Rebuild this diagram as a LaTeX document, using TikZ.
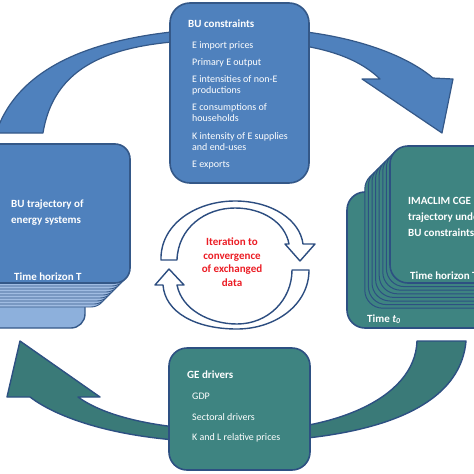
\documentclass[tikz,border=0pt]{standalone}
\usepackage{fontspec}
\setmainfont{Carlito}
\definecolor{bluefill}{RGB}{79,129,189}
\definecolor{blueline}{RGB}{52,88,136}
\definecolor{lightfill}{RGB}{141,176,220}
\definecolor{layerfill}{RGB}{160,188,226}
\definecolor{tealfill}{RGB}{62,132,129}
\definecolor{tealarrow}{RGB}{58,122,120}
\definecolor{darkline}{RGB}{45,80,130}
\definecolor{cline}{RGB}{44,77,128}
\definecolor{redtext}{RGB}{235,28,36}
\tikzset{
  bubox/.style={shape=rectangle, draw=blueline, fill=bluefill, line width=1.6pt, rounded corners=18pt, inner sep=0pt, outer sep=0pt},
  gebox/.style={shape=rectangle, draw=darkline, fill=tealfill, line width=1.6pt, rounded corners=18pt, inner sep=0pt, outer sep=0pt},
  lightbox/.style={draw=blueline, fill=lightfill, line width=1.4pt, rounded corners=14pt},
  layerL/.style={draw=blueline, fill=layerfill, line width=0.9pt, rounded corners=15pt},
  layerR/.style={draw=darkline, fill=tealfill, line width=1pt, rounded corners=18pt},
  bigblue/.style={draw=blueline, fill=bluefill, line width=1.2pt, line join=round},
  bigteal/.style={draw=darkline, fill=tealarrow, line width=1.4pt, line join=round},
  circarrow/.style={draw=cline, fill=white, line width=1.4pt, line join=round},
  title/.style={font=\bfseries\fontsize{11}{13}\selectfont, text=white, anchor=base west, inner sep=0pt},
  item/.style={font=\fontsize{10}{12}\selectfont, text=white, anchor=base west, inner sep=0pt},
  redlabel/.style={font=\bfseries\fontsize{11}{13.5}\selectfont, text=redtext, align=center, inner sep=0pt},
}
\begin{document}
\begin{tikzpicture}[x=1pt,y=-1pt]
\useasboundingbox (0,0) rectangle (474,474);
\clip (0,0) rectangle (474,474);

% big blue arrow (behind BU constraints box)
\path[bigblue] (-4,133) .. controls (20,60) and (110,30) .. (237,28)
  .. controls (330,27) and (400,50) .. (433,78) -- (453,79) -- (442,133) -- (362,79) -- (380,79)
  .. controls (350,50) and (300,42) .. (237,40)
  .. controls (120,38) and (55,60) .. (43,133) -- cycle;

% big teal arrow (behind GE drivers box)
\path[bigteal] (417,341) -- (466,341) .. controls (460,410) and (370,440) .. (240,442)
  .. controls (130,444) and (60,420) .. (30,397) -- (7,397) -- (20,341) -- (100,397) -- (78,397)
  .. controls (110,420) and (170,430) .. (240,431)
  .. controls (330,432) and (415,400) .. (417,341) -- cycle;

% left stack: BU trajectory
\path[lightbox] (-40,190) rectangle (85,328);
\foreach \k in {8,7,...,1} {
  \path[layerL] ({-20-3*\k},{144+3*\k}) rectangle ({130-3*\k},{283+3*\k});
}
\node[bubox, rounded corners=15pt, minimum width=150pt, minimum height=139pt] (butraj) at (55,213.5) {};

% right stack: IMACLIM
\node[gebox, minimum width=173pt, minimum height=136pt] (tzero) at (433.5,260) {};
\foreach \k in {7,6,...,1} {
  \path[layerR] ({390-3.6*\k},{146+3.6*\k}) rectangle (520,{283+3.6*\k});
}
\node[gebox, minimum width=130pt, minimum height=137pt] (imaclim) at (455,214.5) {};

% top and bottom boxes
\node[bubox, rounded corners=20pt, minimum width=139pt, minimum height=180pt] (bucons) at (239.5,93) {};
\node[gebox, minimum width=141pt, minimum height=122pt] (gedrv) at (239.5,409) {};

% texts: BU constraints
\node[title] (tbu) at (188,27) {BU constraints};
\node[item] (i1) at (192,48) {E import prices};
\node[item] (i2) at (192,65) {Primary E output};
\node[item] (i3a) at (192,82) {E intensities of non-E};
\node[item] (i3b) at (192,93) {productions};
\node[item] (i4a) at (192,110) {E consumptions of};
\node[item] (i4b) at (192,121) {households};
\node[item] (i5a) at (192,139) {K intensity of E supplies};
\node[item] (i5b) at (192,150) {and end-uses};
\node[item] (i6) at (192,167) {E exports};

% texts: BU trajectory
\node[title] (tl1) at (11,207) {BU trajectory of};
\node[title] (tl2) at (11,223) {energy systems};
\node[title] (tl3) at (14,280) {Time horizon T};

% texts: IMACLIM
\node[title] (tr1) at (408,204) {IMACLIM CGE};
\node[title] (tr2) at (408,220) {trajectory under};
\node[title] (tr3) at (408,236) {BU constraints};
\node[title] (tr4) at (410,279) {Time horizon T};
\node[title, font=\fontsize{11}{13}\selectfont\bfseries] (tr5) at (367,322) {Time \textit{t}\textsubscript{\textit{0}}};

% texts: GE drivers
\node[title] (tge) at (187,378) {GE drivers};
\node[item] (g1) at (192,399) {GDP};
\node[item] (g2) at (192,420) {Sectoral drivers};
\node[item] (g3) at (192,440) {K and L relative prices};

% central circular arrows
\path[circarrow] (161,260) .. controls (160,225) and (195,201) .. (235,201)
  .. controls (272,201) and (300,220) .. (303,244) -- (315,244) -- (300,261) -- (285,244) -- (289,244)
  .. controls (285,222) and (262,208) .. (235,208)
  .. controls (205,208) and (178,228) .. (177,260) -- cycle;
\path[circarrow] (309,270) .. controls (309,305) and (275,329) .. (237,329)
  .. controls (195,329) and (165,312) .. (163,285) -- (155,285) -- (169,269) -- (184,285) -- (177,285)
  .. controls (182,310) and (210,324) .. (237,324)
  .. controls (268,324) and (292,300) .. (292,270) -- cycle;

\node[redlabel] (iter) at (232,262) {Iteration to\\convergence\\of exchanged\\data};
\end{tikzpicture}
\end{document}
